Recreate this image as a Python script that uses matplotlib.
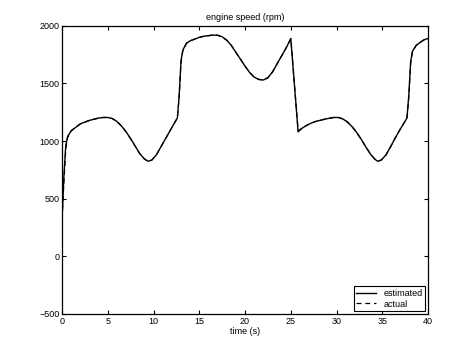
import matplotlib
matplotlib.use("Agg")
import matplotlib.pyplot as plt

plt.rcParams['font.family'] = ['Liberation Sans', 'DejaVu Sans']

time_s = [0.0, 0.2, 0.4, 0.6, 1.0, 1.5, 2.0, 2.5, 3.0, 3.5, 4.0, 4.5, 5.0, 5.5, 6.0,
          6.5, 7.0, 7.5, 8.0, 8.5, 9.0, 9.4, 9.8, 10.3, 10.8, 11.3, 11.8, 12.3, 12.6,
          12.8, 13.0, 13.2, 13.6, 14.0, 14.5, 15.0, 15.5, 16.0, 16.5, 17.0, 17.5, 18.0,
          18.5, 19.0, 19.5, 20.0, 20.5, 21.0, 21.5, 22.0, 22.5, 23.0, 23.5, 24.0, 24.5,
          25.0, 25.8, 26.2, 26.7, 27.2, 27.7, 28.2, 28.7, 29.2, 29.7, 30.2, 30.7, 31.2,
          31.7, 32.2, 32.7, 33.2, 33.7, 34.2, 34.5, 34.9, 35.4, 35.9, 36.4, 36.9, 37.4,
          37.7, 37.9, 38.1, 38.3, 38.7, 39.2, 39.6, 40.0]

estimated = [330, 700, 960, 1040, 1090, 1120, 1150, 1165, 1180, 1190, 1200, 1205, 1205,
             1195, 1170, 1130, 1080, 1020, 955, 890, 845, 825, 835, 880, 950, 1020, 1090,
             1160, 1200, 1400, 1700, 1790, 1850, 1870, 1885, 1900, 1910, 1915, 1920, 1918,
             1905, 1875, 1830, 1770, 1710, 1650, 1595, 1555, 1535, 1530, 1550, 1600, 1670,
             1740, 1810, 1890, 1080, 1110, 1135, 1155, 1170, 1180, 1190, 1198, 1205, 1205,
             1192, 1165, 1125, 1075, 1015, 950, 888, 842, 825, 836, 880, 950, 1025, 1095,
             1160, 1200, 1400, 1690, 1780, 1830, 1860, 1880, 1890]

actual = [330, 650, 930, 1030, 1090, 1120, 1150, 1165, 1180, 1190, 1200, 1205, 1205,
          1195, 1170, 1130, 1080, 1020, 955, 890, 845, 825, 835, 880, 950, 1020, 1090,
          1160, 1200, 1380, 1680, 1785, 1850, 1870, 1885, 1900, 1910, 1915, 1920, 1918,
          1905, 1875, 1830, 1770, 1710, 1650, 1595, 1555, 1535, 1530, 1550, 1600, 1670,
          1740, 1810, 1890, 1090, 1110, 1135, 1155, 1170, 1180, 1190, 1198, 1205, 1205,
          1192, 1165, 1125, 1075, 1015, 950, 888, 842, 825, 836, 880, 950, 1025, 1095,
          1160, 1200, 1380, 1670, 1775, 1830, 1860, 1880, 1890]

x_ticks = [0, 5, 10, 15, 20, 25, 30, 35, 40]
y_ticks = [-500, 0, 500, 1000, 1500, 2000]

fig = plt.figure(figsize=(4.74, 3.54), dpi=100)
ax = fig.add_axes([0.131, 0.113, 0.772, 0.814])

ax.plot(time_s, estimated, color='black', linewidth=1.0, linestyle='-', label='estimated')
ax.plot(time_s, actual, color='black', linewidth=0.9, linestyle=(0, (4, 3)), label='actual')

ax.set_xlim(0, 40)
ax.set_ylim(-500, 2000)
ax.set_xticks(x_ticks)
ax.set_yticks(y_ticks)
ax.tick_params(direction='in', length=3, width=0.8, labelsize=6.5, top=True, right=True, pad=2)
for s in ax.spines.values():
    s.set_linewidth(0.9)

ax.set_title('engine speed (rpm)', fontsize=6.5, pad=4)
ax.set_xlabel('time (s)', fontsize=6.5, labelpad=1)

leg = ax.legend(loc='lower right', fontsize=6.5, frameon=True, fancybox=False,
                edgecolor='black', framealpha=1, handlelength=2.2, borderpad=0.3,
                labelspacing=0.2, borderaxespad=0.3)
leg.get_frame().set_linewidth(0.8)

fig.savefig('out.png', dpi=100)
